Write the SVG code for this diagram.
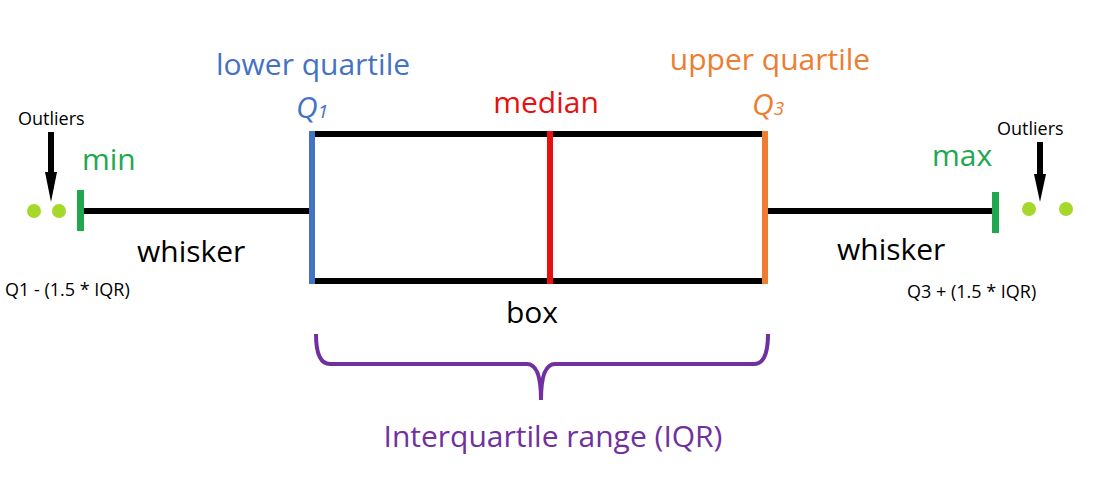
<svg xmlns="http://www.w3.org/2000/svg" width="1095" height="481" viewBox="0 0 1095 481">
<style>
text{font-family:"Open Sans","Liberation Sans",sans-serif}
.blk{stroke:#000;stroke-width:6;fill:none}
.dot{fill:#a6d82a}
.grn{fill:#21a84f}
.big{font-size:30px}
.sm{font-size:18px;fill:#000}
</style>
<rect width="1095" height="481" fill="#fff"/>
<g id="connectors">
<line class="blk" x1="83" y1="211" x2="310" y2="211"/>
<line class="blk" x1="768" y1="211" x2="995" y2="211"/>
<path d="M51,132 L51,175" stroke="#000" stroke-width="6"/>
<path d="M45,172 L57,172 L51,202 z" fill="#000"/>
<path d="M1040,142 L1040,178" stroke="#000" stroke-width="6"/>
<path d="M1034,174 L1046,174 L1040,202 z" fill="#000"/>
<path d="M316,334 Q316,364 330,364 L527,364 Q541,364 541,400 Q541,364 555,364 L754,364 Q768,364 768,334" fill="none" stroke="#7030a0" stroke-width="4"/>
</g>
<g id="box">
<line class="blk" x1="312" y1="134" x2="765" y2="134"/>
<line class="blk" x1="312" y1="281" x2="765" y2="281"/>
<line x1="312" y1="131" x2="312" y2="284" stroke="#4472c4" stroke-width="6"/>
<line x1="550" y1="131" x2="550" y2="284" stroke="#e81010" stroke-width="6"/>
<line x1="765" y1="131" x2="765" y2="284" stroke="#ed7d31" stroke-width="6"/>
<text x="532" y="323" text-anchor="middle" class="big">box</text>
</g>
<g id="min"><rect class="grn" x="77" y="190" width="7" height="41"/><text x="82" y="170" class="big" fill="#21a84f">min</text></g>
<g id="max"><rect class="grn" x="992" y="192" width="7" height="41"/><text x="932" y="166" class="big" fill="#21a84f">max</text></g>
<g id="outliers-left"><circle class="dot" cx="34" cy="211" r="7"/><circle class="dot" cx="59" cy="211" r="7"/><text x="18" y="125" class="sm">Outliers</text></g>
<g id="outliers-right"><circle class="dot" cx="1029" cy="209" r="7"/><circle class="dot" cx="1066" cy="209" r="7"/><text x="997" y="135" class="sm">Outliers</text></g>
<g id="labels">
<text x="313" y="75" text-anchor="middle" class="big" fill="#4472c4">lower quartile</text>
<text x="296" y="118" class="big" fill="#4472c4" font-style="italic">Q<tspan font-size="19">1</tspan></text>
<text x="546" y="113" text-anchor="middle" class="big" fill="#e81010">median</text>
<text x="770" y="70" text-anchor="middle" class="big" fill="#ed7d31">upper quartile</text>
<text x="752" y="115" class="big" fill="#ed7d31" font-style="italic">Q<tspan font-size="19">3</tspan></text>
<text x="137" y="262" class="big">whisker</text>
<text x="837" y="260" class="big">whisker</text>
<text x="5" y="296" class="sm">Q1 - (1.5 * IQR)</text>
<text x="907" y="298" class="sm">Q3 + (1.5 * IQR)</text>
<text x="553" y="447" text-anchor="middle" class="big" fill="#7030a0">Interquartile range (IQR)</text>
</g>
</svg>
